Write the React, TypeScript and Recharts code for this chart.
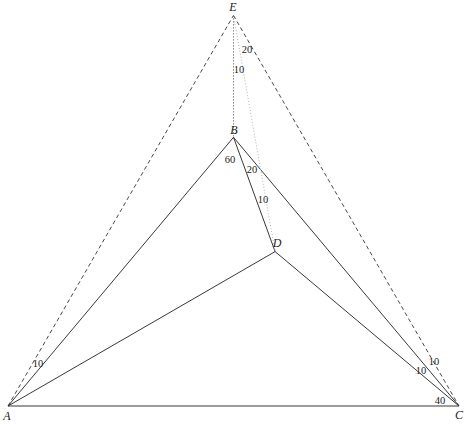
import { ScatterChart, Scatter, XAxis, YAxis, ReferenceLine, ReferenceDot } from "recharts";

// vertices (1 unit ~ 1px, origin at A)
const pointNames = ["A", "B", "C", "D", "E"];
const pointX = [0, 225.5, 451, 267.1, 225.5];
const pointY = [0, 268.7, 0, 154.4, 390.6];

// where each vertex letter sits
const nameX = [-1, 226, 451, 269, 225];
const nameY = [-10, 276, -9, 163, 399];

// segments: from, to, kind
const edgeFrom = ["A", "A", "A", "B", "D", "B", "A", "E", "E", "E"];
const edgeTo = ["C", "B", "D", "C", "C", "D", "E", "C", "B", "D"];
const edgeKind = ["solid", "solid", "solid", "solid", "solid", "solid", "dashed", "dashed", "dotted", "faint"];

// angle marks
const angleText = ["20", "10", "60", "20", "10", "10", "10", "10", "40"];
const angleX = [239, 231, 222, 244, 255, 30, 426, 413, 432];
const angleY = [357, 337, 247, 237, 207, 43, 45, 36, 6];

const kindStyle: Record<string, any> = {
  solid: { stroke: "#222", strokeWidth: 0.9 },
  dashed: { stroke: "#333", strokeWidth: 0.9, strokeDasharray: "4 3" },
  dotted: { stroke: "#333", strokeWidth: 0.9, strokeDasharray: "1 2" },
  faint: { stroke: "#aaa", strokeWidth: 0.9, strokeDasharray: "1 2" },
};

const vertices = pointNames.map((n, i) => ({ name: n, x: pointX[i], y: pointY[i] }));

const pt = (n: string) => {
  const i = pointNames.indexOf(n);
  return { x: pointX[i], y: pointY[i] };
};

const font = "'Liberation Serif', 'DejaVu Serif', serif";

export default function App() {
  return (
    <div style={{ position: "absolute", left: 0, top: 0, width: 474, height: 425, background: "#fff" }}>
      <ScatterChart
        width={474}
        height={425}
        margin={{ top: 15.4, right: 15, bottom: 19, left: 8 }}
      >
        <XAxis type="number" dataKey="x" domain={[0, 451]} hide />
        <YAxis type="number" dataKey="y" domain={[0, 390.6]} hide />
        <Scatter data={vertices} fill="none" shape={() => <g />} isAnimationActive={false} />
        {edgeFrom.map((f, i) => (
          <ReferenceLine
            key={"e" + i}
            segment={[pt(f), pt(edgeTo[i])]}
            ifOverflow="visible"
            {...kindStyle[edgeKind[i]]}
          />
        ))}
        {pointNames.map((n, i) => (
          <ReferenceDot
            key={"n" + i}
            x={nameX[i]}
            y={nameY[i]}
            r={0}
            fill="none"
            stroke="none"
            ifOverflow="visible"
            label={{
              value: n,
              position: "center",
              fill: "#222",
              fontSize: 12,
              fontStyle: "italic",
              fontFamily: font,
            }}
          />
        ))}
        {angleText.map((t, i) => (
          <ReferenceDot
            key={"a" + i}
            x={angleX[i]}
            y={angleY[i]}
            r={0}
            fill="none"
            stroke="none"
            ifOverflow="visible"
            label={{
              value: t,
              position: "center",
              fill: "#222",
              fontSize: 10.5,
              fontFamily: font,
            }}
          />
        ))}
      </ScatterChart>
    </div>
  );
}
